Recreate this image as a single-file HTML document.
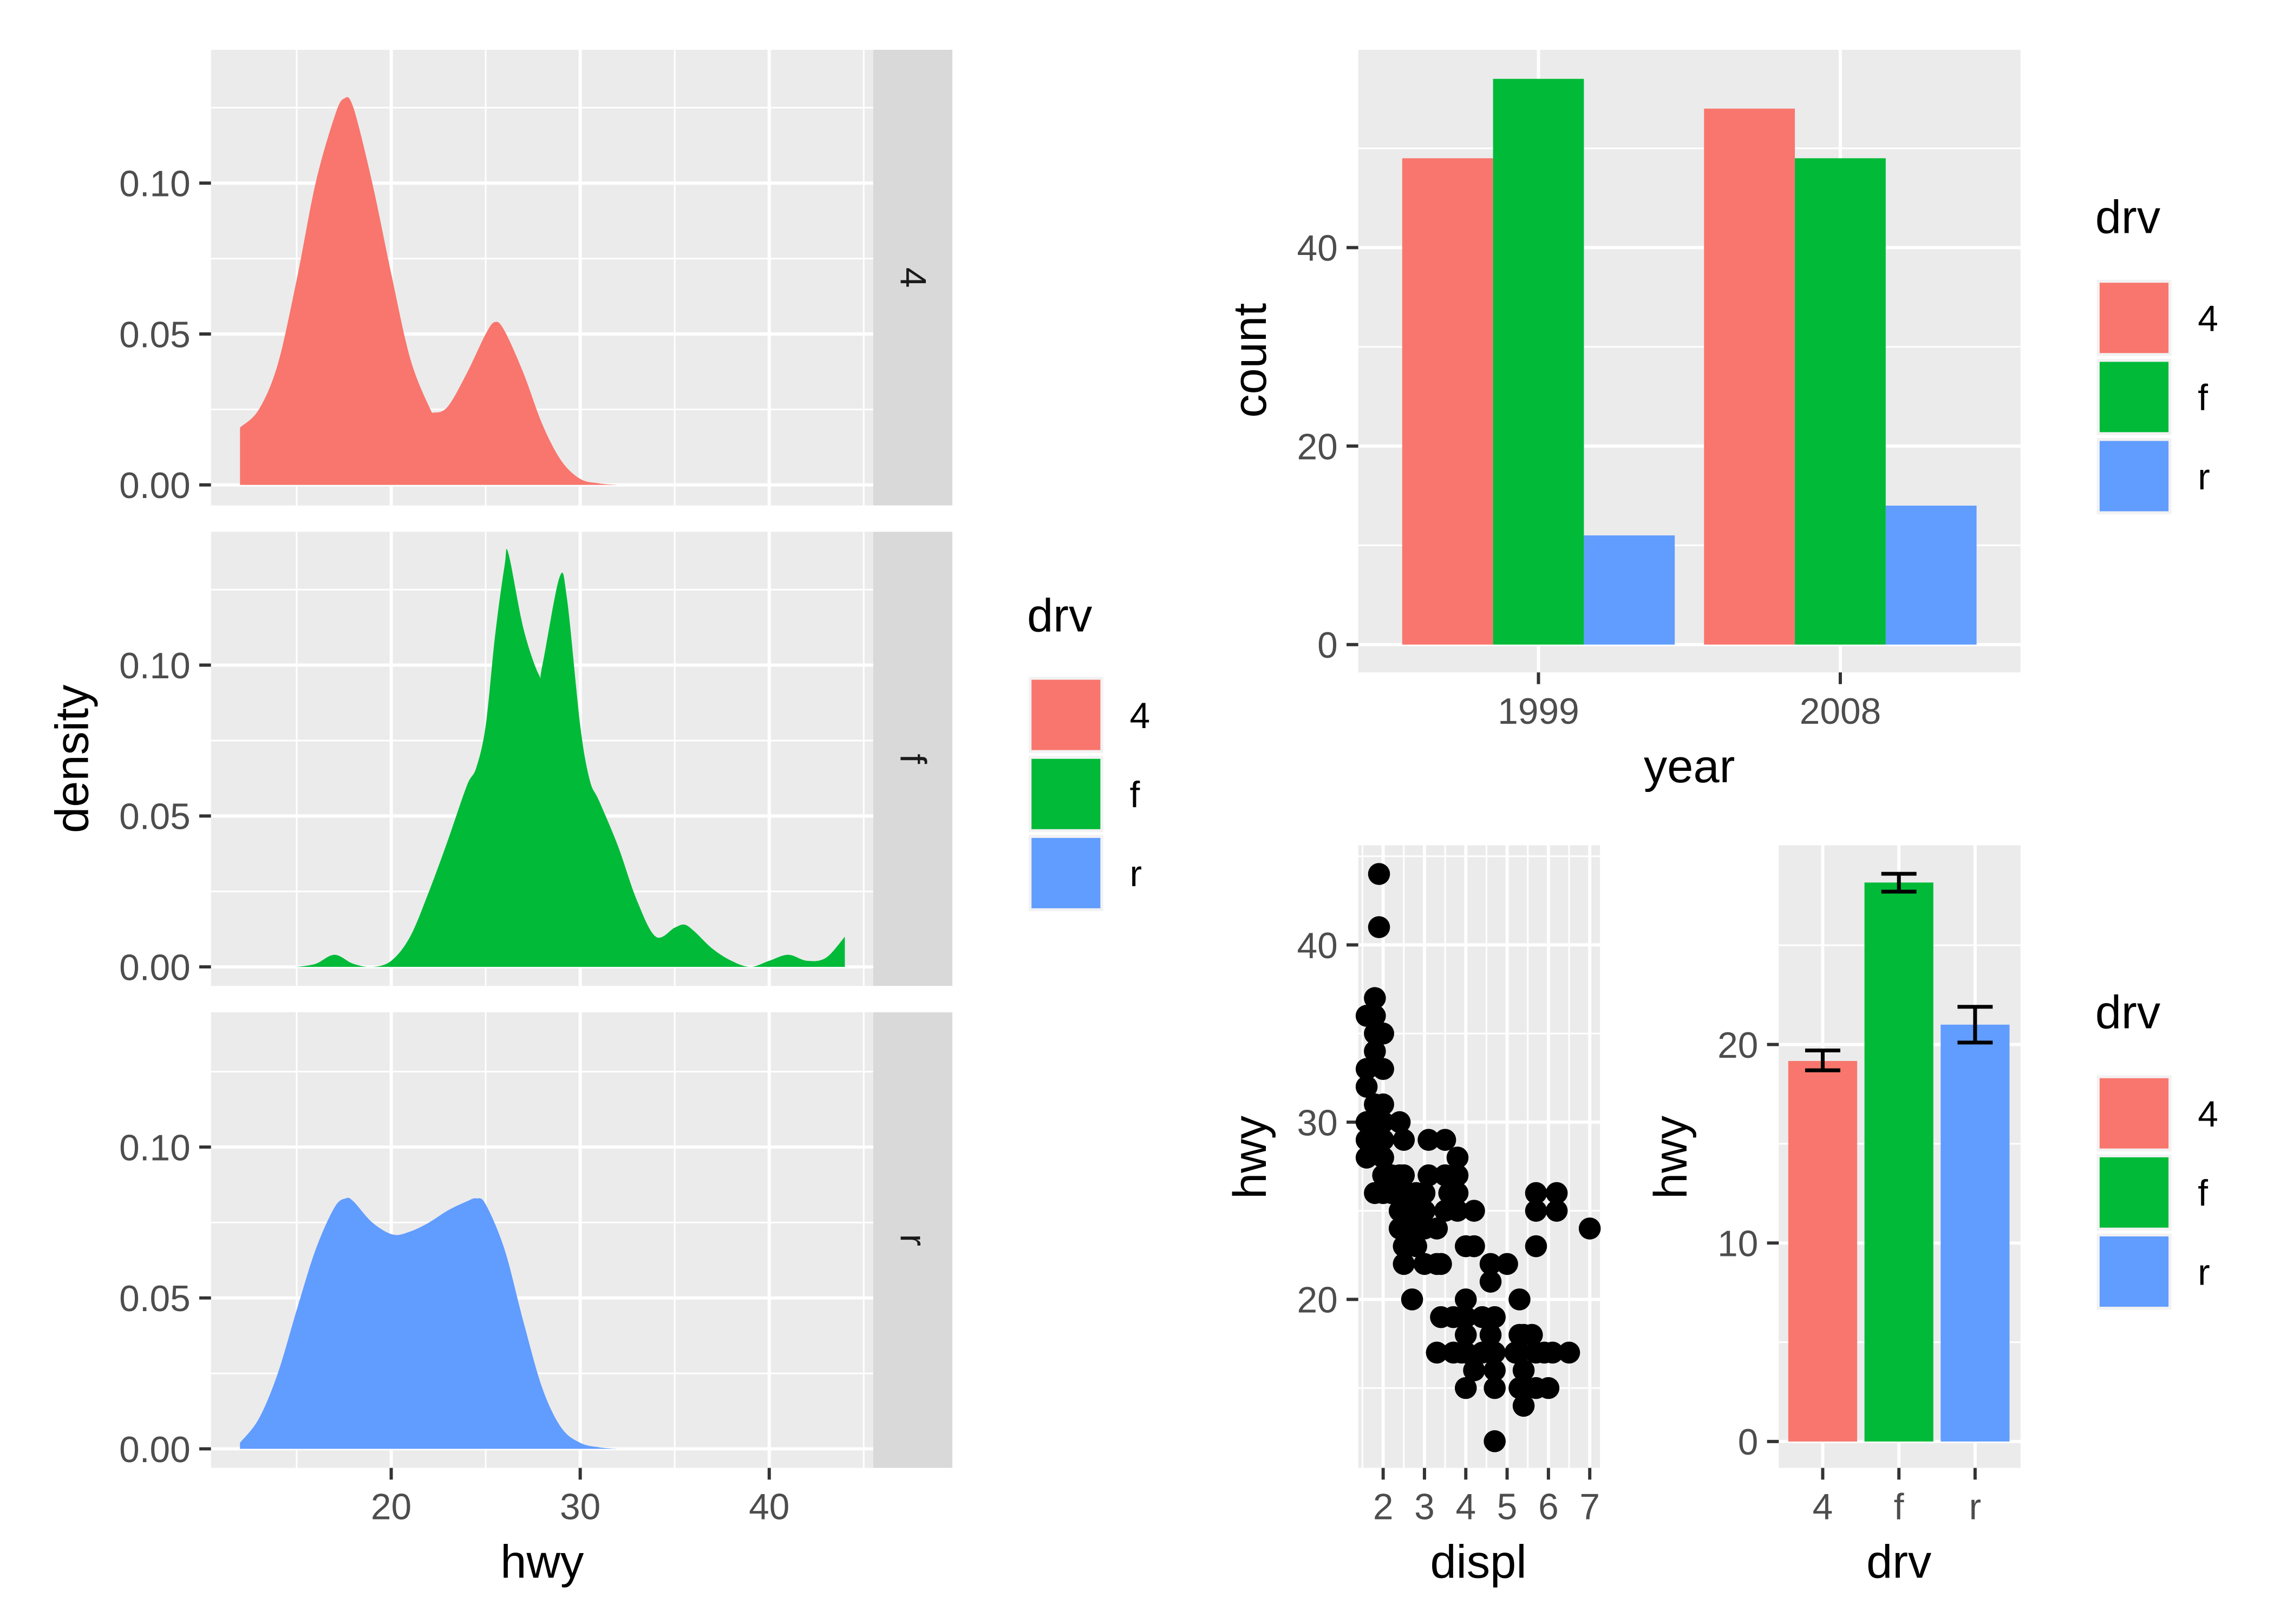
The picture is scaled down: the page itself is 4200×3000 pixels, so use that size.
<!DOCTYPE html>
<html><head><meta charset="utf-8">
<style>
html,body{margin:0;padding:0;background:#fff;}
svg{display:block;font-family:"Liberation Sans",Arial,sans-serif;}
</style></head>
<body>
<svg id="c" width="4200" height="3000" viewBox="0 0 1552 1108.57" preserveAspectRatio="none" xmlns="http://www.w3.org/2000/svg"></svg>
<script>
// ---------- data ----------
const densHwy4 = [12,13,14,15,16,17,17.5,18,19,20,21,22,22.3,23,24,25,25.5,26,27,28,29,30,31,32];
const densVal4 = [0.019,0.025,0.04,0.068,0.10,0.122,0.128,0.125,0.10,0.07,0.042,0.026,0.024,0.026,0.037,0.05,0.054,0.051,0.037,0.02,0.008,0.002,0.0005,0];
const densHwyF = [15,16,17,18,19,20,21,22,23,24,24.5,25,25.5,26,26.2,27,27.8,28,28.9,29.3,30,30.5,31,32,33,34,35,35.5,36,37,38,39,40,41,42,43,44];
const densValF = [0,0.001,0.004,0.001,0,0.002,0.01,0.025,0.042,0.06,0.066,0.08,0.11,0.133,0.137,0.112,0.097,0.1,0.129,0.122,0.08,0.062,0.055,0.04,0.022,0.01,0.013,0.014,0.012,0.006,0.002,0,0.002,0.004,0.002,0.003,0.01];
const densHwyR = [12,13,14,15,16,17,17.6,18,19,20.1,21,22,23,24,24.5,25,26,27,28,29,30,31,32];
const densValR = [0.002,0.01,0.025,0.046,0.066,0.08,0.083,0.082,0.075,0.071,0.072,0.075,0.079,0.082,0.083,0.081,0.066,0.042,0.02,0.007,0.002,0.0005,0];
const years = ['1999','2008'];
const countDrv4 = [49,54];
const countDrvF = [57,49];
const countDrvR = [11,14];
const drvCats = ['4','f','r'];
const meanHwy = [19.17,28.16,21.0];
const seLow = [18.7,27.7,20.1];
const seHigh = [19.7,28.6,21.9];
const scatterDispl = [1.8,1.8,1.8,1.8,1.8,1.8,1.8,1.9,1.9,1.9,1.6,1.6,1.6,1.6,1.6,1.6,2.0,2.0,2.0,2.0,2.0,2.0,2.0,2.0,2.2,2.2,2.4,2.4,2.4,2.4,2.5,2.5,2.5,2.5,2.5,2.5,2.7,2.7,2.8,2.8,2.8,3.0,3.0,3.0,3.1,3.1,3.3,3.3,3.3,3.4,3.4,3.5,3.5,3.5,3.6,3.7,3.7,3.8,3.8,3.8,3.8,3.9,4.0,4.0,4.0,4.0,4.0,4.0,4.2,4.2,4.2,4.6,4.6,4.6,4.6,4.7,4.7,4.7,4.7,5.0,5.2,5.3,5.3,5.3,5.4,5.4,5.4,5.6,5.7,5.7,5.7,5.7,5.7,5.9,6.0,6.1,6.2,6.2,6.5,7.0,4.4,4.4,5.3,5.4,4.7,2.7,2.4,3.0];
const scatterHwy =   [29,31,37,36,35,34,26,44,41,29,33,32,29,30,36,28,31,28,30,26,29,35,33,27,26,27,26,27,30,24,25,26,29,23,27,22,20,24,26,25,23,26,22,24,27,29,24,22,17,19,22,25,29,27,26,19,17,26,28,25,27,17,20,15,17,19,23,18,23,25,16,17,22,21,18,17,15,12,19,22,17,20,17,15,16,18,15,18,25,26,23,17,15,17,15,17,26,25,17,24,19,17,18,14,16,25,25,25];

const svg = document.getElementById('c');
const NS = 'http://www.w3.org/2000/svg';
function mk(tag, attrs, parent){ const e=document.createElementNS(NS,tag); for(const k in attrs) e.setAttribute(k,attrs[k]); (parent||svg).appendChild(e); return e; }
function txt(s, attrs, parent){ const e=mk('text',attrs,parent); e.textContent=s; return e; }
const PANEL='#ebebeb', TICKC='#333333', LAB='#4d4d4d';
const colors=['#F8766D','#00BA38','#619CFF'];
const TF=25, AF=32, LF=25;

function lin(d0,d1,r0,r1){ return v=> r0+(v-d0)*(r1-r0)/(d1-d0); }
function smoothPath(pts){
  let d='';
  for(let i=0;i<pts.length-1;i++){
    const p0=pts[Math.max(0,i-1)], p1=pts[i], p2=pts[i+1], p3=pts[Math.min(pts.length-1,i+2)];
    const c1x=p1[0]+(p2[0]-p0[0])/6, c1y=p1[1]+(p2[1]-p0[1])/6;
    const c2x=p2[0]-(p3[0]-p1[0])/6, c2y=p2[1]-(p3[1]-p1[1])/6;
    d+=` C${c1x.toFixed(2)},${c1y.toFixed(2)} ${c2x.toFixed(2)},${c2y.toFixed(2)} ${p2[0].toFixed(2)},${p2[1].toFixed(2)}`;
  }
  return d;
}

// ---------- density facets ----------
const dx = lin(20,30,267,396);
const facets = [{top:34,bot:345,zero:331,lab:'4',hx:densHwy4,hv:densVal4},
                {top:363,bot:673,zero:660,lab:'f',hx:densHwyF,hv:densValF},
                {top:691,bot:1002,zero:989,lab:'r',hx:densHwyR,hv:densValR}];
facets.forEach((f,i)=>{
  const g=mk('g',{});
  
  
  const dy = v=> f.zero - v*2060;
  mk('rect',{x:144,y:f.top,width:452,height:f.bot-f.top,fill:PANEL},g);
  [15,25,35,45].forEach(v=>mk('line',{x1:dx(v),x2:dx(v),y1:f.top,y2:f.bot,stroke:'#fff','stroke-width':1.1},g));
  [0.025,0.075,0.125].forEach(v=>mk('line',{x1:144,x2:596,y1:dy(v),y2:dy(v),stroke:'#fff','stroke-width':1.1},g));
  [20,30,40].forEach(v=>mk('line',{x1:dx(v),x2:dx(v),y1:f.top,y2:f.bot,stroke:'#fff','stroke-width':2.2},g));
  [0,0.05,0.10].forEach(v=>{
    mk('line',{x1:144,x2:596,y1:dy(v),y2:dy(v),stroke:'#fff','stroke-width':2.2},g);
    mk('line',{x1:136,x2:144,y1:dy(v),y2:dy(v),stroke:TICKC,'stroke-width':2.2},g);
    const t=txt(v.toFixed(2),{x:130,y:dy(v)+9,'font-size':TF,fill:LAB,'text-anchor':'end'},g);
    
    
  });
  const pts=f.hx.map((h,k)=>[dx(h),dy(f.hv[k])]);
  let d='M'+dx(f.hx[0])+','+dy(0)+' L'+pts[0][0]+','+pts[0][1]+smoothPath(pts);
  d+=' L'+dx(f.hx[f.hx.length-1])+','+dy(0)+' Z';
  const p=mk('path',{d:d,fill:colors[i]},g);
  
  
  mk('rect',{x:596,y:f.top,width:54,height:f.bot-f.top,fill:'#d9d9d9'},g);
  const cy=(f.top+f.bot)/2;
  const st=txt(f.lab,{x:623,y:cy,'font-size':TF,fill:'#1a1a1a','text-anchor':'middle','dominant-baseline':'central',transform:`rotate(90 623 ${cy})`},g);
  
  
});
[20,30,40].forEach(v=>{
  mk('line',{x1:dx(v),x2:dx(v),y1:1002,y2:1010,stroke:TICKC,'stroke-width':2.2});
  const t=txt(String(v),{x:dx(v),y:1037,'font-size':TF,fill:LAB,'text-anchor':'middle'});
  
  
});
let t;
t=txt('hwy',{x:370,y:1077,'font-size':AF,fill:'#000','text-anchor':'middle'});
 
t=txt('density',{x:60,y:518,'font-size':AF,fill:'#000','text-anchor':'middle',transform:'rotate(-90 60 518)'});
 

function legend(x,yTitle,yKey0,name){
  const g=mk('g',{});
  
  
  txt('drv',{x:x,y:yTitle+11,'font-size':AF,fill:'#000'},g);
  drvCats.forEach((c,i)=>{
    const y=yKey0+i*54;
    mk('rect',{x:x+1,y:y,width:51,height:52,fill:'#f2f2f2'},g);
    const r=mk('rect',{x:x+3,y:y+2,width:47,height:48,fill:colors[i]},g);
    
    
    const l=txt(c,{x:x+70,y:y+35,'font-size':LF,fill:'#000'},g);
    
    
  });
}
legend(701,420,462,'legend-density');
legend(1430,148,191,'legend-count');
legend(1430,691,734,'legend-hwy');

// ---------- count bar chart ----------
{
  const g=mk('g',{});
  
  
  const cy=lin(0,40,440,169);
  const cx=lin(0,1,1050,1256);
  mk('rect',{x:927,y:34,width:452,height:425,fill:PANEL},g);
  [10,30,50].forEach(v=>mk('line',{x1:927,x2:1379,y1:cy(v),y2:cy(v),stroke:'#fff','stroke-width':1.1},g));
  [0,20,40].forEach(v=>{
    mk('line',{x1:927,x2:1379,y1:cy(v),y2:cy(v),stroke:'#fff','stroke-width':2.2},g);
    mk('line',{x1:919,x2:927,y1:cy(v),y2:cy(v),stroke:TICKC,'stroke-width':2.2},g);
    txt(String(v),{x:913,y:cy(v)+9,'font-size':TF,fill:LAB,'text-anchor':'end'},g);
  });
  years.forEach((yr,i)=>{
    const x=cx(i);
    mk('line',{x1:x,x2:x,y1:34,y2:459,stroke:'#fff','stroke-width':2.2},g);
    mk('line',{x1:x,x2:x,y1:459,y2:467,stroke:TICKC,'stroke-width':2.2},g);
    txt(yr,{x:x,y:494,'font-size':TF,fill:LAB,'text-anchor':'middle'},g);
    [countDrv4,countDrvF,countDrvR].forEach((arr,k)=>{
      const bx=x-93+k*62;
      const r=mk('rect',{x:bx,y:cy(arr[i]),width:62,height:cy(0)-cy(arr[i]),fill:colors[k]},g);
      
      
    });
  });
  txt('year',{x:1153,y:534,'font-size':AF,fill:'#000','text-anchor':'middle'},g);
  txt('count',{x:864,y:246,'font-size':AF,fill:'#000','text-anchor':'middle',transform:'rotate(-90 864 246)'},g);
}

// ---------- scatter ----------
{
  const g=mk('g',{});
  
  
  const sx=lin(2,7,944,1085);
  const sy=lin(20,40,887,645);
  mk('rect',{x:927,y:577,width:165,height:425,fill:PANEL},g);
  [1.5,2.5,3.5,4.5,5.5,6.5].forEach(v=>mk('line',{x1:sx(v),x2:sx(v),y1:577,y2:1002,stroke:'#fff','stroke-width':1.1},g));
  [15,25,35,45].forEach(v=>mk('line',{x1:927,x2:1092,y1:sy(v),y2:sy(v),stroke:'#fff','stroke-width':1.1},g));
  [20,30,40].forEach(v=>{
    mk('line',{x1:927,x2:1092,y1:sy(v),y2:sy(v),stroke:'#fff','stroke-width':2.2},g);
    mk('line',{x1:919,x2:927,y1:sy(v),y2:sy(v),stroke:TICKC,'stroke-width':2.2},g);
    txt(String(v),{x:913,y:sy(v)+9,'font-size':TF,fill:LAB,'text-anchor':'end'},g);
  });
  [2,3,4,5,6,7].forEach(v=>{
    mk('line',{x1:sx(v),x2:sx(v),y1:577,y2:1002,stroke:'#fff','stroke-width':2.2},g);
    mk('line',{x1:sx(v),x2:sx(v),y1:1002,y2:1010,stroke:TICKC,'stroke-width':2.2},g);
    txt(String(v),{x:sx(v),y:1037,'font-size':TF,fill:LAB,'text-anchor':'middle'},g);
  });
  scatterDispl.forEach((d,i)=>{
    const c=mk('circle',{cx:sx(d),cy:sy(scatterHwy[i]),r:7.5,fill:'#000'},g);
    
    
  });
  txt('displ',{x:1009,y:1077,'font-size':AF,fill:'#000','text-anchor':'middle'},g);
  txt('hwy',{x:864,y:790,'font-size':AF,fill:'#000','text-anchor':'middle',transform:'rotate(-90 864 790)'},g);
}

// ---------- mean hwy bar ----------
{
  const g=mk('g',{});
  
  
  const by=lin(0,20,984,713);
  const bx=lin(0,2,1244,1348);
  mk('rect',{x:1214,y:577,width:165,height:425,fill:PANEL},g);
  [5,15,25].forEach(v=>mk('line',{x1:1214,x2:1379,y1:by(v),y2:by(v),stroke:'#fff','stroke-width':1.1},g));
  [0,10,20].forEach(v=>{
    mk('line',{x1:1214,x2:1379,y1:by(v),y2:by(v),stroke:'#fff','stroke-width':2.2},g);
    mk('line',{x1:1206,x2:1214,y1:by(v),y2:by(v),stroke:TICKC,'stroke-width':2.2},g);
    txt(String(v),{x:1200,y:by(v)+9,'font-size':TF,fill:LAB,'text-anchor':'end'},g);
  });
  drvCats.forEach((c,i)=>{
    const x=bx(i);
    mk('line',{x1:x,x2:x,y1:577,y2:1002,stroke:'#fff','stroke-width':2.2},g);
    mk('line',{x1:x,x2:x,y1:1002,y2:1010,stroke:TICKC,'stroke-width':2.2},g);
    txt(c,{x:x,y:1037,'font-size':TF,fill:LAB,'text-anchor':'middle'},g);
    const r=mk('rect',{x:x-23.5,y:by(meanHwy[i]),width:47,height:by(0)-by(meanHwy[i]),fill:colors[i]},g);
    
    
    const e=mk('path',{d:`M${x-12},${by(seHigh[i])} H${x+12} M${x},${by(seHigh[i])} V${by(seLow[i])} M${x-12},${by(seLow[i])} H${x+12}`,stroke:'#000','stroke-width':2.6,fill:'none'},g);
    
    
  });
  txt('drv',{x:1296,y:1077,'font-size':AF,fill:'#000','text-anchor':'middle'},g);
  txt('hwy',{x:1151,y:790,'font-size':AF,fill:'#000','text-anchor':'middle',transform:'rotate(-90 1151 790)'},g);
}
</script>
</body></html>
